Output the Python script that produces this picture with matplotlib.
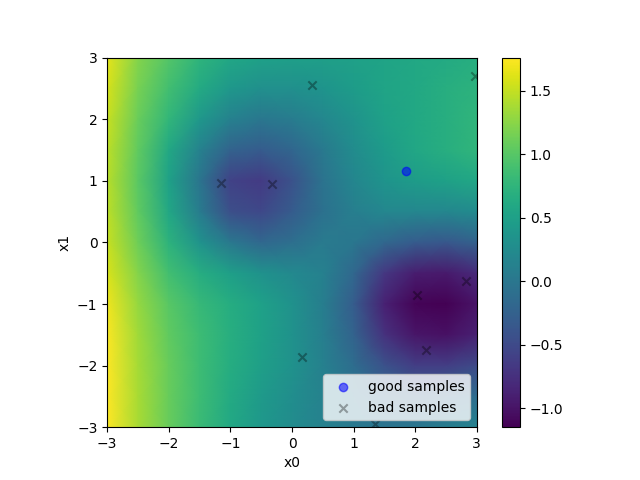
import numpy as np
import matplotlib
matplotlib.use("Agg")
import matplotlib.pyplot as plt

# grid the surface was read on
x0_grid = [-3, -2.5, -2, -1.5, -1, -0.5, 0, 0.5, 1, 1.5, 2, 2.5, 3]
x1_grid = [3, 2.5, 2, 1.5, 1, 0.5, 0, -0.5, -1, -1.5, -2, -2.5, -3]

# surface values, one row per x1_grid entry
z_values = [
    [1.65, 1.22, 0.98, 0.74, 0.58, 0.50, 0.48, 0.48, 0.50, 0.55, 0.60, 0.62, 0.68],
    [1.58, 1.16, 0.88, 0.62, 0.40, 0.30, 0.30, 0.36, 0.45, 0.55, 0.60, 0.68, 0.72],
    [1.52, 1.10, 0.76, 0.40, 0.12, 0.00, 0.06, 0.20, 0.35, 0.50, 0.60, 0.68, 0.75],
    [1.47, 1.05, 0.60, 0.14, -0.24, -0.32, -0.20, 0.03, 0.25, 0.44, 0.58, 0.68, 0.75],
    [1.45, 1.02, 0.52, -0.02, -0.58, -0.64, -0.42, -0.04, 0.18, 0.36, 0.45, 0.52, 0.58],
    [1.47, 1.05, 0.58, 0.06, -0.45, -0.52, -0.32, -0.06, 0.10, 0.20, 0.20, 0.20, 0.24],
    [1.52, 1.12, 0.72, 0.34, 0.02, -0.18, -0.10, 0.05, 0.00, -0.18, -0.32, -0.36, -0.25],
    [1.60, 1.22, 0.88, 0.66, 0.48, 0.32, 0.22, 0.12, -0.18, -0.68, -0.92, -0.95, -0.80],
    [1.70, 1.30, 1.00, 0.80, 0.65, 0.50, 0.33, 0.08, -0.30, -0.88, -1.12, -1.15, -1.00],
    [1.74, 1.34, 1.05, 0.85, 0.68, 0.52, 0.33, 0.10, -0.24, -0.74, -0.98, -1.02, -0.88],
    [1.76, 1.37, 1.08, 0.85, 0.65, 0.48, 0.32, 0.12, -0.12, -0.42, -0.62, -0.62, -0.50],
    [1.76, 1.38, 1.08, 0.85, 0.62, 0.42, 0.28, 0.13, -0.02, -0.18, -0.25, -0.20, -0.12],
    [1.76, 1.38, 1.08, 0.82, 0.60, 0.40, 0.25, 0.13, 0.03, -0.02, 0.00, 0.08, 0.15],
]

good_x0 = [1.85]
good_x1 = [1.16]
bad_x0 = [-1.16, -0.33, 0.32, 2.97, 2.03, 2.83, 2.17, 0.17, 1.35]
bad_x1 = [0.97, 0.95, 2.55, 2.70, -0.85, -0.63, -1.75, -1.86, -2.95]

fig, ax = plt.subplots(figsize=(6.4, 4.8), dpi=100)
mesh = ax.pcolormesh(x0_grid, x1_grid, np.array(z_values), shading="gouraud",
                     cmap="viridis", vmin=-1.15, vmax=1.76)
ax.scatter(good_x0, good_x1, c="b", marker="o", alpha=0.55, label="good samples")
ax.scatter(bad_x0, bad_x1, c="k", marker="x", alpha=0.33, label="bad samples")
ax.set_xlim(-3, 3)
ax.set_ylim(-3, 3)
ax.set_xlabel("x0")
ax.set_ylabel("x1")
ax.set_aspect("equal")
ax.legend(loc="lower right")
fig.colorbar(mesh, ax=ax)
fig.savefig("out.png", dpi=100)
